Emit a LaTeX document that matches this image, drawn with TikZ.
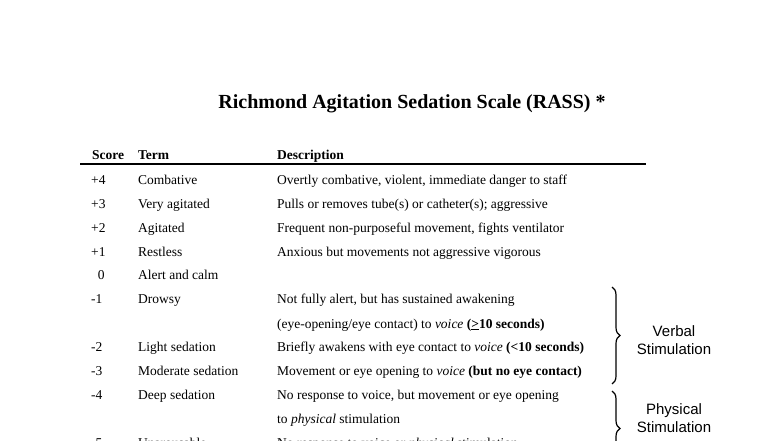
\documentclass[tikz,border=0pt]{standalone}
\usepackage{fontspec}
\setmainfont{Liberation Serif}
\newfontfamily\sansf{Liberation Sans}
\usetikzlibrary{decorations.pathreplacing}
\begin{document}
\begin{tikzpicture}[x=1pt,y=-1pt,
  cell/.style={anchor=base west,inner sep=0pt,font=\fontsize{13.5}{15}\selectfont},
  hd/.style={cell,font=\bfseries\fontsize{13.5}{15}\selectfont},
  lab/.style={align=center,inner sep=0pt,font=\sansf\fontsize{15}{18}\selectfont},
  brc/.style={decorate,decoration={brace,amplitude=8pt},line width=1.2pt}]
\useasboundingbox (0,0) rectangle (784,441);
\clip (0,0) rectangle (784,441);
\node[font=\bfseries\fontsize{20}{24}\selectfont,anchor=base] (title) at (412,109) {Richmond Agitation Sedation Scale (RASS) *};
\node[hd] (hs) at (92,160) {Score};
\node[hd] (ht) at (138,160) {Term};
\node[hd] (hd) at (277,160) {Description};
\draw[line width=2.5pt] (80,164) -- (646,164);
\foreach \y/\s/\t/\d [count=\i] in {
 184/+4/Combative/{Overtly combative, violent, immediate danger to staff},
 208/+3/Very agitated/{Pulls or removes tube(s) or catheter(s); aggressive},
 232/+2/Agitated/{Frequent non-purposeful movement, fights ventilator},
 256/+1/Restless/{Anxious but movements not aggressive vigorous},
 279/\ \ 0/Alert and calm/{},
 303/-1/Drowsy/{Not fully alert, but has sustained awakening},
 351/-2/Light sedation/{Briefly awakens with eye contact to \textit{voice} \textbf{(<10 seconds)}},
 375/-3/Moderate sedation/{Movement or eye opening to \textit{voice} \textbf{(but no eye contact)}},
 399/-4/Deep sedation/{No response to voice, but movement or eye opening},
 447/-5/Unarousable/{No response to voice or \textit{physical} stimulation}}
 {\node[cell] (s\i) at (91,\y) {\s};
  \node[cell] (t\i) at (138,\y) {\t};
  \node[cell] (d\i) at (277,\y) {\d};}
\node[cell] (d6b) at (277,328) {(eye-opening/eye contact) to \textit{voice} \textbf{(\underline{>}10 seconds)}};
\node[cell] (d9b) at (277,423) {to \textit{physical} stimulation};
\coordinate (v1) at (612,287); \coordinate (v2) at (612,384);
\coordinate (p1) at (612,391); \coordinate (p2) at (612,466);
\draw[brc] (v1) -- (v2);
\draw[brc] (p1) -- (p2);
\node[lab] (verb) at (674,340) {Verbal\\Stimulation};
\node[lab] (phys) at (674,418) {Physical\\Stimulation};
\end{tikzpicture}
\end{document}
